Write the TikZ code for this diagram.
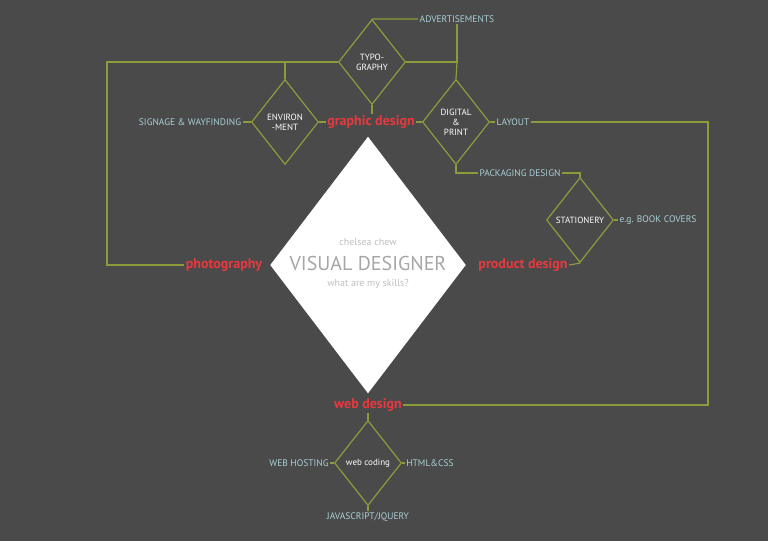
\documentclass[tikz,border=0pt]{standalone}
\usepackage{fontspec}
\setmainfont{PT Sans}
\usetikzlibrary{shapes.geometric, positioning}
\definecolor{bgcol}{HTML}{4A4A4A}
\definecolor{linecol}{HTML}{8E9B3C}
\definecolor{redcol}{HTML}{E8383F}
\definecolor{labcol}{HTML}{A9CFD6}

\begin{document}
\begin{tikzpicture}[x=1pt,y=-1pt,line width=1.2pt,draw=linecol]
    \tikzstyle{skill}=[diamond,draw=linecol,line width=1.2pt,inner sep=0pt,minimum width=67pt,minimum height=85pt,text=white,font=\fontsize{9}{10}\selectfont,align=center]
    \tikzstyle{field}=[text=redcol,font=\bfseries\fontsize{14}{16}\selectfont,inner sep=1pt]
    \tikzstyle{tag}=[text=labcol,font=\fontsize{9.5}{10}\selectfont,inner sep=1pt]

    % background
    \fill[bgcol] (0,0) rectangle (768,541);

    % the centre
    \node[diamond,fill=white,inner sep=0pt,minimum width=196pt,minimum height=257pt] (centre) at (368,265) {};
    \node[text=black!25,font=\fontsize{10}{11}\selectfont] (name) at (368,242) {chelsea chew};
    \node[text=black!35,font=\fontsize{20}{22}\selectfont] (title) at (368,263) {VISUAL DESIGNER};
    \node[text=black!25,font=\fontsize{10}{11}\selectfont] (ask) at (368,284) {what are my skills?};

    % the fields
    \node[field] (graphic) at (371,122) {graphic design};
    \node[field] (photo) at (224,265) {photography};
    \node[field] (product) at (523,265) {product design};
    \node[field] (web) at (368,405) {web design};

    % the skill diamonds
    \node[skill] (typo) at (372,62) {TYPO-\\GRAPHY};
    \node[skill] (env) at (285,122) {ENVIRON\\-MENT};
    \node[skill] (digital) at (456,122) {DIGITAL\\\&\\PRINT};
    \node[skill] (station) at (580,220) {STATIONERY};
    \node[skill] (coding) at (368,463) {web coding};

    % the tags
    \node[tag] (ads) at (457,19) {ADVERTISEMENTS};
    \node[tag] (signage) at (190,122) {SIGNAGE \& WAYFINDING};
    \node[tag] (layout) at (513,122) {LAYOUT};
    \node[tag] (pack) at (520,173) {PACKAGING DESIGN};
    \node[tag] (books) at (658,220) {e.g. BOOK COVERS};
    \node[tag] (hosting) at (299,463) {WEB HOSTING};
    \node[tag] (html) at (430,463) {HTML\&CSS};
    \node[tag] (js) at (368,517) {JAVASCRIPT/JQUERY};

    % corner points
    \coordinate (c1) at (107,62);
    \coordinate (c2) at (708,122);

    % connect graphic design
    \draw (typo.north) -- (ads.west);
    \draw (typo.south) -- (graphic.north -| typo.south);
    \draw (typo.east) -- (typo.east -| ads) -- (ads.south);
    \draw (typo.east -| ads) -- (digital.north);
    \draw (typo.west) -- (c1) |- (photo.west);
    \draw (typo.west -| env) -- (env.north);
    \draw (env.west) -- (signage.east);
    \draw (env.east) -- (graphic.west);
    \draw (graphic.east) -- (digital.west);
    \draw (digital.east) -- (layout.west);
    \draw (layout.east) -- (c2) |- (web.east);
    \draw (digital.south) |- (pack.west);
    \draw (pack.east) -| (station.north);

    % connect product design
    \draw (station.east) -- (books.west);
    \draw (station.south) -- (product.east);

    % connect web design
    \draw (web.south) -- (coding.north);
    \draw (coding.west) -- (hosting.east);
    \draw (coding.east) -- (html.west);
    \draw (coding.south) -- (js.north);
\end{tikzpicture}
\end{document}
